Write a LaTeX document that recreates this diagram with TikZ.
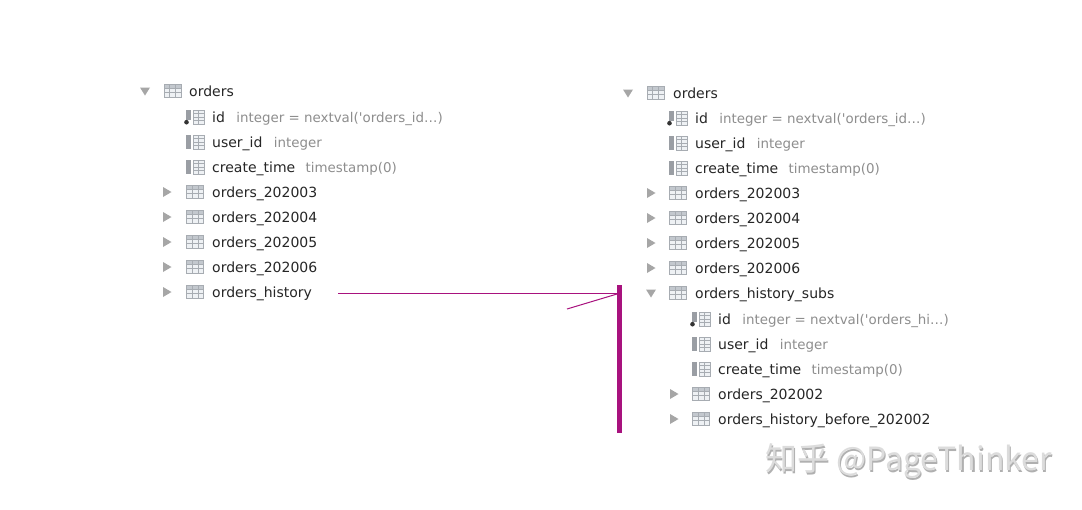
\documentclass[tikz,border=0pt]{standalone}
\usepackage{fontspec}
\setmainfont{DejaVu Sans}
\newfontfamily\cjkwm{Noto Sans CJK SC}
\usetikzlibrary{calc}
\definecolor{txtc}{HTML}{262626}
\definecolor{typc}{HTML}{8E8E8E}
\definecolor{tric}{HTML}{A6A6A6}
\definecolor{icob}{HTML}{A7ACB2}
\definecolor{icof}{HTML}{EEF1F4}
\definecolor{icoh}{HTML}{C3C8CE}
\definecolor{colbar}{HTML}{9A9EA4}
\definecolor{magc}{HTML}{A8127E}
\definecolor{wmc}{HTML}{DCDCDC}
\definecolor{wms}{HTML}{B0B0B0}
\tikzset{
  lbl/.style={font=\fontsize{14}{16}\selectfont, text=txtc, inner sep=0pt, anchor=base west},
  typ/.style={font=\fontsize{13.4}{15}\selectfont, text=typc, inner sep=0pt, anchor=base west},
  tridown/.pic={\fill[tric] (-5,-3.5) -- (5,-3.5) -- (0,4.5) -- cycle;},
  triright/.pic={\fill[tric] (-4,-5) -- (-4,5) -- (4.5,0) -- cycle;},
  tblicon/.pic={
    \fill[icof] (-8.5,-6.5) rectangle (8.5,6.5);
    \fill[icoh] (-8.5,-6.5) rectangle (8.5,-3);
    \draw[icob, line width=0.8pt] (-8.5,-6.5) rectangle (8.5,6.5);
    \draw[icob, line width=0.6pt] (-3,-6.5) -- (-3,6.5) (3,-6.5) -- (3,6.5)
      (-8.5,-3) -- (8.5,-3) (-8.5,1.2) -- (8.5,1.2);
  },
  colicon/.pic={
    \fill[colbar] (-9,-7) rectangle (-4,7);
    \fill[icof] (-2,-7) rectangle (9,7);
    \draw[icob, line width=0.8pt] (-2,-7) rectangle (9,7);
    \draw[icob, line width=0.6pt] (3.5,-7) -- (3.5,7)
      (-2,-3.5) -- (9,-3.5) (-2,0) -- (9,0) (-2,3.5) -- (9,3.5);
  },
  keyicon/.pic={
    \fill[colbar] (-9,-7) rectangle (-4,2.5);
    \fill[black!80] (-8.5,5.2) circle (2.3);
    \fill[icof] (-2,-7) rectangle (9,7);
    \draw[icob, line width=0.8pt] (-2,-7) rectangle (9,7);
    \draw[icob, line width=0.6pt] (3.5,-7) -- (3.5,7)
      (-2,-3.5) -- (9,-3.5) (-2,0) -- (9,0) (-2,3.5) -- (9,3.5);
  }
}
\begin{document}
\begin{tikzpicture}[x=1pt,y=-1pt]
\useasboundingbox (0,0) rectangle (1082,509);
\fill[white] (0,0) rectangle (1082,509);

% ---------------- left tree ----------------
\pic at (145,91) {tridown};
\pic at (172.5,91) {tblicon};
\node[lbl] (lroot) at (189,96) {orders};

\pic at (195,117) {keyicon};
\node[lbl] (lid) at (212,122) {id};
\node[typ] (lidt) at ($(lid.base east)+(11,0)$) {integer = nextval(\textquotesingle orders\_id…)};

\pic at (195,142) {colicon};
\node[lbl] (luid) at (212,147) {user\_id};
\node[typ] (luidt) at ($(luid.base east)+(11,0)$) {integer};

\pic at (195,167) {colicon};
\node[lbl] (lct) at (212,172) {create\_time};
\node[typ] (lctt) at ($(lct.base east)+(10,0)$) {timestamp(0)};

\pic at (167,192) {triright};
\pic at (195,192) {tblicon};
\node[lbl] (l03) at (212,197) {orders\_202003};

\pic at (167,217) {triright};
\pic at (195,217) {tblicon};
\node[lbl] (l04) at (212,222) {orders\_202004};

\pic at (167,242) {triright};
\pic at (195,242) {tblicon};
\node[lbl] (l05) at (212,247) {orders\_202005};

\pic at (167,267) {triright};
\pic at (195,267) {tblicon};
\node[lbl] (l06) at (212,272) {orders\_202006};

\pic at (167,292) {triright};
\pic at (195,292) {tblicon};
\node[lbl] (lhist) at (212,297) {orders\_history};

% ---------------- right tree ----------------
\pic at (628,93) {tridown};
\pic at (655.5,93) {tblicon};
\node[lbl] (rroot) at (673,98) {orders};

\pic at (678,118) {keyicon};
\node[lbl] (rid) at (695,123) {id};
\node[typ] (ridt) at ($(rid.base east)+(11,0)$) {integer = nextval(\textquotesingle orders\_id…)};

\pic at (678,143) {colicon};
\node[lbl] (ruid) at (695,148) {user\_id};
\node[typ] (ruidt) at ($(ruid.base east)+(11,0)$) {integer};

\pic at (678,168) {colicon};
\node[lbl] (rct) at (695,173) {create\_time};
\node[typ] (rctt) at ($(rct.base east)+(10,0)$) {timestamp(0)};

\pic at (651,193) {triright};
\pic at (678,193) {tblicon};
\node[lbl] (r03) at (695,198) {orders\_202003};

\pic at (651,218) {triright};
\pic at (678,218) {tblicon};
\node[lbl] (r04) at (695,223) {orders\_202004};

\pic at (651,243) {triright};
\pic at (678,243) {tblicon};
\node[lbl] (r05) at (695,248) {orders\_202005};

\pic at (651,268) {triright};
\pic at (678,268) {tblicon};
\node[lbl] (r06) at (695,273) {orders\_202006};

\pic at (651,293) {tridown};
\pic at (678,293) {tblicon};
\node[lbl] (rsubs) at (695,298) {orders\_history\_subs};

\pic at (701,319) {keyicon};
\node[lbl] (sid) at (718,324) {id};
\node[typ] (sidt) at ($(sid.base east)+(11,0)$) {integer = nextval(\textquotesingle orders\_hi…)};

\pic at (701,344) {colicon};
\node[lbl] (suid) at (718,349) {user\_id};
\node[typ] (suidt) at ($(suid.base east)+(11,0)$) {integer};

\pic at (701,369) {colicon};
\node[lbl] (sct) at (718,374) {create\_time};
\node[typ] (sctt) at ($(sct.base east)+(10,0)$) {timestamp(0)};

\pic at (674,394) {triright};
\pic at (701,394) {tblicon};
\node[lbl] (s02) at (718,399) {orders\_202002};

\pic at (674,419) {triright};
\pic at (701,419) {tblicon};
\node[lbl] (sbefore) at (718,424) {orders\_history\_before\_202002};

% ---------------- magenta connector ----------------
\coordinate (bartop) at (619.5,285);
\coordinate (barbot) at (619.5,433);
\coordinate (hstart) at (338,293);
\coordinate (hend) at (617,293);
\coordinate (dstart) at (567,309);
\coordinate (dend) at (617,294);
\draw[magc, line width=5pt] (bartop) -- (barbot);
\draw[magc, line width=1pt] (hstart) -- (hend);
\draw[magc, line width=1pt] (dstart) -- (dend);

% ---------------- watermark ----------------
\node[font=\cjkwm\fontsize{32}{34}\selectfont, text=wms, inner sep=0pt, anchor=base west] (wmshadow) at (766,472) {知乎 @PageThinker};
\node[font=\cjkwm\fontsize{32}{34}\selectfont, text=wmc, inner sep=0pt, anchor=base west] (wm) at (764.8,470.8) {知乎 @PageThinker};
\end{tikzpicture}
\end{document}
